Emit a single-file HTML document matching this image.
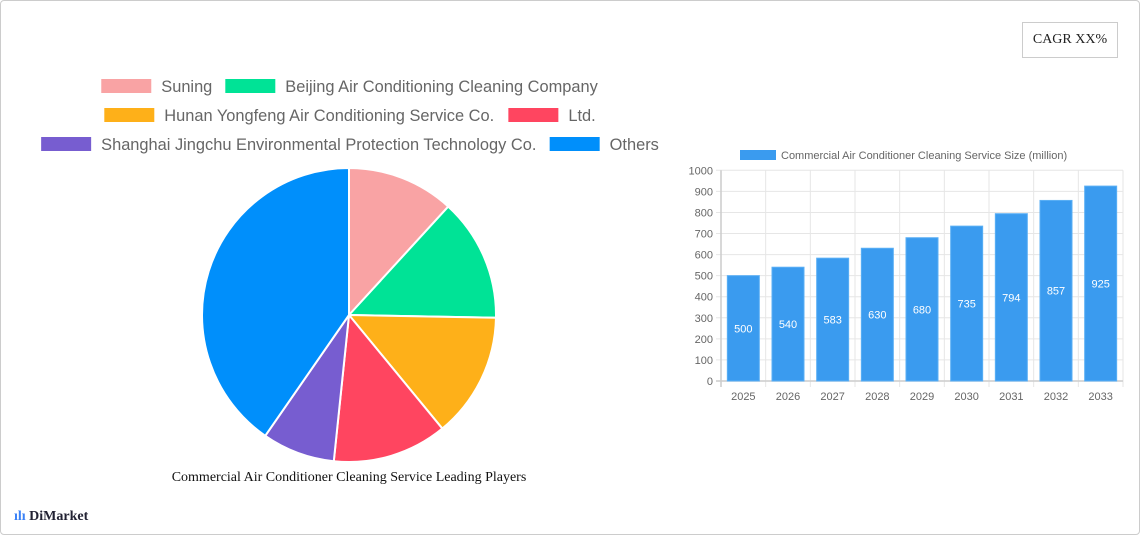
<!DOCTYPE html>
<html><head><meta charset="utf-8"><style>
body{margin:0;background:#fff;font-family:"Liberation Sans",sans-serif}
#wrap{position:relative;width:1138px;height:533px;border:1px solid #ccc;border-radius:4px;overflow:hidden}
#cagr{position:absolute;left:1021px;top:21px;width:96px;height:36px;border:1px solid #ccc;box-sizing:border-box;font-family:"Liberation Serif",serif;font-size:14px;line-height:34px;text-align:center;color:#222}
</style></head><body>
<div id="wrap">
<div id="cagr">CAGR XX%</div>
<svg id="pie" width="700" height="535" style="position:absolute;left:0;top:0"></svg>
<svg id="bar" width="1140" height="535" style="position:absolute;left:0;top:0"></svg>
<div style="position:absolute;left:13px;top:508px;font-family:'Liberation Serif',serif;font-size:14px;font-weight:bold;color:#223"><span style="color:#3b82f6">ılı</span> DiMarket</div>
</div>
<script>
const NS="http://www.w3.org/2000/svg";
const pieLabels=["Suning","Beijing Air Conditioning Cleaning Company","Hunan Yongfeng Air Conditioning Service Co.","Ltd.","Shanghai Jingchu Environmental Protection Technology Co.","Others"];
const pieValues=[11.8,13.5,13.75,12.6,8,40.35];
const pieColors=["#f9a3a4","#00e396","#feb019","#ff4560","#775dd0","#008ffb"];
const years=["2025","2026","2027","2028","2029","2030","2031","2032","2033"];
const sizes=[500,540,583,630,680,735,794,857,925];
const yTicks=[0,100,200,300,400,500,600,700,800,900,1000];
function mk(p,t,a,txt){const e=document.createElementNS(NS,t);for(const k in a)e.setAttribute(k,a[k]);if(txt!==undefined)e.textContent=txt;p.appendChild(e);return e;}
const pie=document.getElementById('pie');
const cx=348,cy=314,r=147;
const tot=pieValues.reduce((a,b)=>a+b,0);
let ang=0;
pieValues.forEach((v,i)=>{
 const a0=ang,a1=ang+v/tot*2*Math.PI;ang=a1;
 const x0=cx+r*Math.sin(a0),y0=cy-r*Math.cos(a0),x1=cx+r*Math.sin(a1),y1=cy-r*Math.cos(a1);
 const s=mk(pie,'path',{d:`M${cx},${cy}L${x0},${y0}A${r},${r} 0 ${a1-a0>Math.PI?1:0} 1 ${x1},${y1}Z`,fill:pieColors[i],stroke:'#fff','stroke-width':2});
 
 
});
const legRows=[[0,1],[2,3],[4,5]];
const rowY=[85,114,143];
const FS=16.4;
const ctx=document.createElement('canvas').getContext('2d');ctx.font=FS+'px "Liberation Sans"';
legRows.forEach((row,ri)=>{
 const widths=row.map(i=>60+ctx.measureText(pieLabels[i]).width);
 const total=widths.reduce((a,b)=>a+b,0)+13*(row.length-1);
 let x=349-total/2;
 row.forEach((i,k)=>{
  const b=mk(pie,'rect',{x:x,y:rowY[ri]-7,width:50,height:14,fill:pieColors[i]});
  
  
  const t=mk(pie,'text',{x:x+60,y:rowY[ri]+6,'font-size':FS,fill:'#666'},pieLabels[i]);
  
  
  x+=widths[k]+13;
 });
});
const pt=mk(pie,'text',{x:348,y:480,'font-size':14,'text-anchor':'middle','font-family':'Liberation Serif',fill:'#111'},'Commercial Air Conditioner Cleaning Service Leading Players');


const bar=document.getElementById('bar');
const L=720,R=1122,T=169.3,B=380,maxV=1000;
const yS=v=>B-(v/maxV)*(B-T);
const bw=(R-L)/years.length;
const xS=i=>L+bw*(i+0.5);
yTicks.forEach(v=>{
 mk(bar,'line',{x1:L-5,x2:R,y1:yS(v),y2:yS(v),stroke:'#e6e6e6'});
 const t=mk(bar,'text',{x:L-8,y:yS(v)+4,'font-size':11,'text-anchor':'end',fill:'#666'},v);
 
 
});
for(let i=0;i<=years.length;i++)mk(bar,'line',{x1:L+bw*i,x2:L+bw*i,y1:T,y2:B+6,stroke:'#e6e6e6'});
mk(bar,'line',{x1:L,x2:L,y1:T,y2:B+6,stroke:'#ccc','stroke-width':1.5});
mk(bar,'line',{x1:L-5,x2:R,y1:B,y2:B,stroke:'#ccc','stroke-width':1.5});
years.forEach((y,i)=>{
 const rc=mk(bar,'rect',{x:xS(i)-16,y:yS(sizes[i]),width:32,height:B-yS(sizes[i]),fill:'#3a9bef',stroke:'#5aaff5'});
 
 
 const v=mk(bar,'text',{x:xS(i),y:(yS(sizes[i])+B)/2+4,'font-size':11,'text-anchor':'middle',fill:'#fff'},sizes[i]);
 
 
 const t=mk(bar,'text',{x:xS(i),y:399,'font-size':11,'text-anchor':'middle',fill:'#666'},y);
 
 
});
const lg=mk(bar,'rect',{x:739,y:149,width:36,height:10,fill:'#3a9bef'});


const lt=mk(bar,'text',{x:780,y:158,'font-size':11,fill:'#666'},'Commercial Air Conditioner Cleaning Service Size (million)');


</script>
</body></html>
